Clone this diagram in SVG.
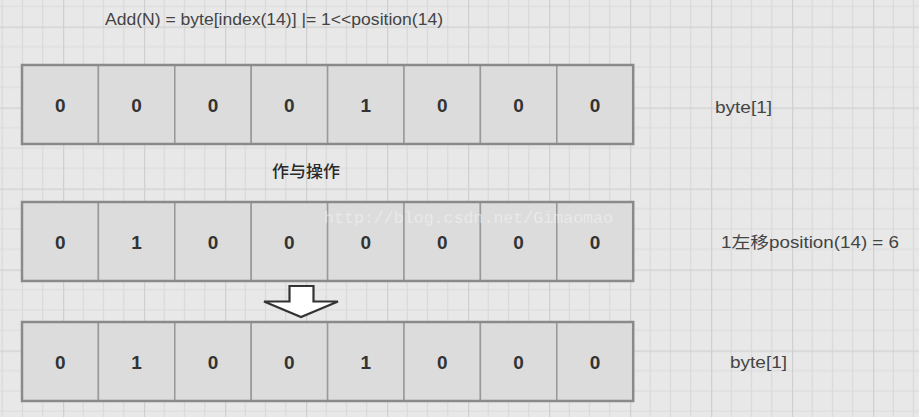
<svg xmlns="http://www.w3.org/2000/svg" width="919" height="417" viewBox="0 0 919 417">
<defs>
<pattern id="grid" patternUnits="userSpaceOnUse" x="63" y="26.5" width="81" height="81">
<rect width="81" height="81" fill="#e8e8e8"/>
<path d="M20.25 0V81M40.5 0V81M60.75 0V81M0 20.25H81M0 40.5H81M0 60.75H81" stroke="#dadada" stroke-width="1.2" fill="none"/>
<path d="M0.5 0V81M0 0.5H81" stroke="#d0d0d0" stroke-width="1.5" fill="none"/>
</pattern>
<style>
.cell{fill:#dcdcdc;stroke:#999;stroke-width:1.5}
.frame{fill:none;stroke:#8a8a8a;stroke-width:2.5}
.d{font-family:"Liberation Sans",Arial,sans-serif;font-weight:bold;font-size:19px;fill:#333;text-anchor:middle}
.lbl{font-family:"Liberation Sans","Noto Sans CJK SC",sans-serif;font-size:16px;fill:#444}
.arrow{fill:#fff;stroke:#333;stroke-width:2.2;stroke-linejoin:miter}
.wm{font-family:"Liberation Mono",monospace;font-size:16.5px;fill:#f4f4f4;opacity:0.55}
</style>
</defs>
<rect width="919" height="417" fill="url(#grid)"/>
<text class="lbl" x="105" y="24.5" textLength="338" lengthAdjust="spacingAndGlyphs">Add(N) = byte[index(14)] |= 1&lt;&lt;position(14)</text>

<g id="row1">
<g id="r1c0"><rect class="cell" x="22" y="65" width="76.4" height="79"/><text class="d" x="60.2" y="112">0</text></g>
<g id="r1c1"><rect class="cell" x="98.4" y="65" width="76.4" height="79"/><text class="d" x="136.6" y="112">0</text></g>
<g id="r1c2"><rect class="cell" x="174.8" y="65" width="76.4" height="79"/><text class="d" x="213" y="112">0</text></g>
<g id="r1c3"><rect class="cell" x="251.2" y="65" width="76.4" height="79"/><text class="d" x="289.4" y="112">0</text></g>
<g id="r1c4"><rect class="cell" x="327.6" y="65" width="76.4" height="79"/><text class="d" x="365.8" y="112">1</text></g>
<g id="r1c5"><rect class="cell" x="404" y="65" width="76.4" height="79"/><text class="d" x="442.2" y="112">0</text></g>
<g id="r1c6"><rect class="cell" x="480.4" y="65" width="76.4" height="79"/><text class="d" x="518.6" y="112">0</text></g>
<g id="r1c7"><rect class="cell" x="556.8" y="65" width="76.4" height="79"/><text class="d" x="595" y="112">0</text></g>
<rect class="frame" x="22" y="65" width="611.2" height="79"/>
</g>
<text class="lbl" x="715" y="113" textLength="57" lengthAdjust="spacingAndGlyphs">byte[1]</text>

<text class="lbl" x="272" y="177" font-size="17" textLength="68" lengthAdjust="spacingAndGlyphs" style="fill:#2a2a2a;font-weight:500">作与操作</text>

<g id="row2">
<g id="r2c0"><rect class="cell" x="22" y="202" width="76.4" height="79"/><text class="d" x="60.2" y="248.5">0</text></g>
<g id="r2c1"><rect class="cell" x="98.4" y="202" width="76.4" height="79"/><text class="d" x="136.6" y="248.5">1</text></g>
<g id="r2c2"><rect class="cell" x="174.8" y="202" width="76.4" height="79"/><text class="d" x="213" y="248.5">0</text></g>
<g id="r2c3"><rect class="cell" x="251.2" y="202" width="76.4" height="79"/><text class="d" x="289.4" y="248.5">0</text></g>
<g id="r2c4"><rect class="cell" x="327.6" y="202" width="76.4" height="79"/><text class="d" x="365.8" y="248.5">0</text></g>
<g id="r2c5"><rect class="cell" x="404" y="202" width="76.4" height="79"/><text class="d" x="442.2" y="248.5">0</text></g>
<g id="r2c6"><rect class="cell" x="480.4" y="202" width="76.4" height="79"/><text class="d" x="518.6" y="248.5">0</text></g>
<g id="r2c7"><rect class="cell" x="556.8" y="202" width="76.4" height="79"/><text class="d" x="595" y="248.5">0</text></g>
<rect class="frame" x="22" y="202" width="611.2" height="79"/>
</g>
<text class="lbl" x="721" y="248" textLength="178" lengthAdjust="spacingAndGlyphs">1左移position(14) = 6</text>

<text class="wm" x="324" y="223" textLength="289" lengthAdjust="spacingAndGlyphs">http://blog.csdn.net/Gimaomao</text>

<g id="connectors">
<path class="arrow" d="M289.5 286 L313.5 286 L313.5 301.5 L338 301.5 L301 317 L264 301.5 L289.5 301.5 Z"/>
</g>

<g id="row3">
<g id="r3c0"><rect class="cell" x="22" y="322" width="76.4" height="79"/><text class="d" x="60.2" y="368.5">0</text></g>
<g id="r3c1"><rect class="cell" x="98.4" y="322" width="76.4" height="79"/><text class="d" x="136.6" y="368.5">1</text></g>
<g id="r3c2"><rect class="cell" x="174.8" y="322" width="76.4" height="79"/><text class="d" x="213" y="368.5">0</text></g>
<g id="r3c3"><rect class="cell" x="251.2" y="322" width="76.4" height="79"/><text class="d" x="289.4" y="368.5">0</text></g>
<g id="r3c4"><rect class="cell" x="327.6" y="322" width="76.4" height="79"/><text class="d" x="365.8" y="368.5">1</text></g>
<g id="r3c5"><rect class="cell" x="404" y="322" width="76.4" height="79"/><text class="d" x="442.2" y="368.5">0</text></g>
<g id="r3c6"><rect class="cell" x="480.4" y="322" width="76.4" height="79"/><text class="d" x="518.6" y="368.5">0</text></g>
<g id="r3c7"><rect class="cell" x="556.8" y="322" width="76.4" height="79"/><text class="d" x="595" y="368.5">0</text></g>
<rect class="frame" x="22" y="322" width="611.2" height="79"/>
</g>
<text class="lbl" x="730" y="368" textLength="57" lengthAdjust="spacingAndGlyphs">byte[1]</text>
</svg>
